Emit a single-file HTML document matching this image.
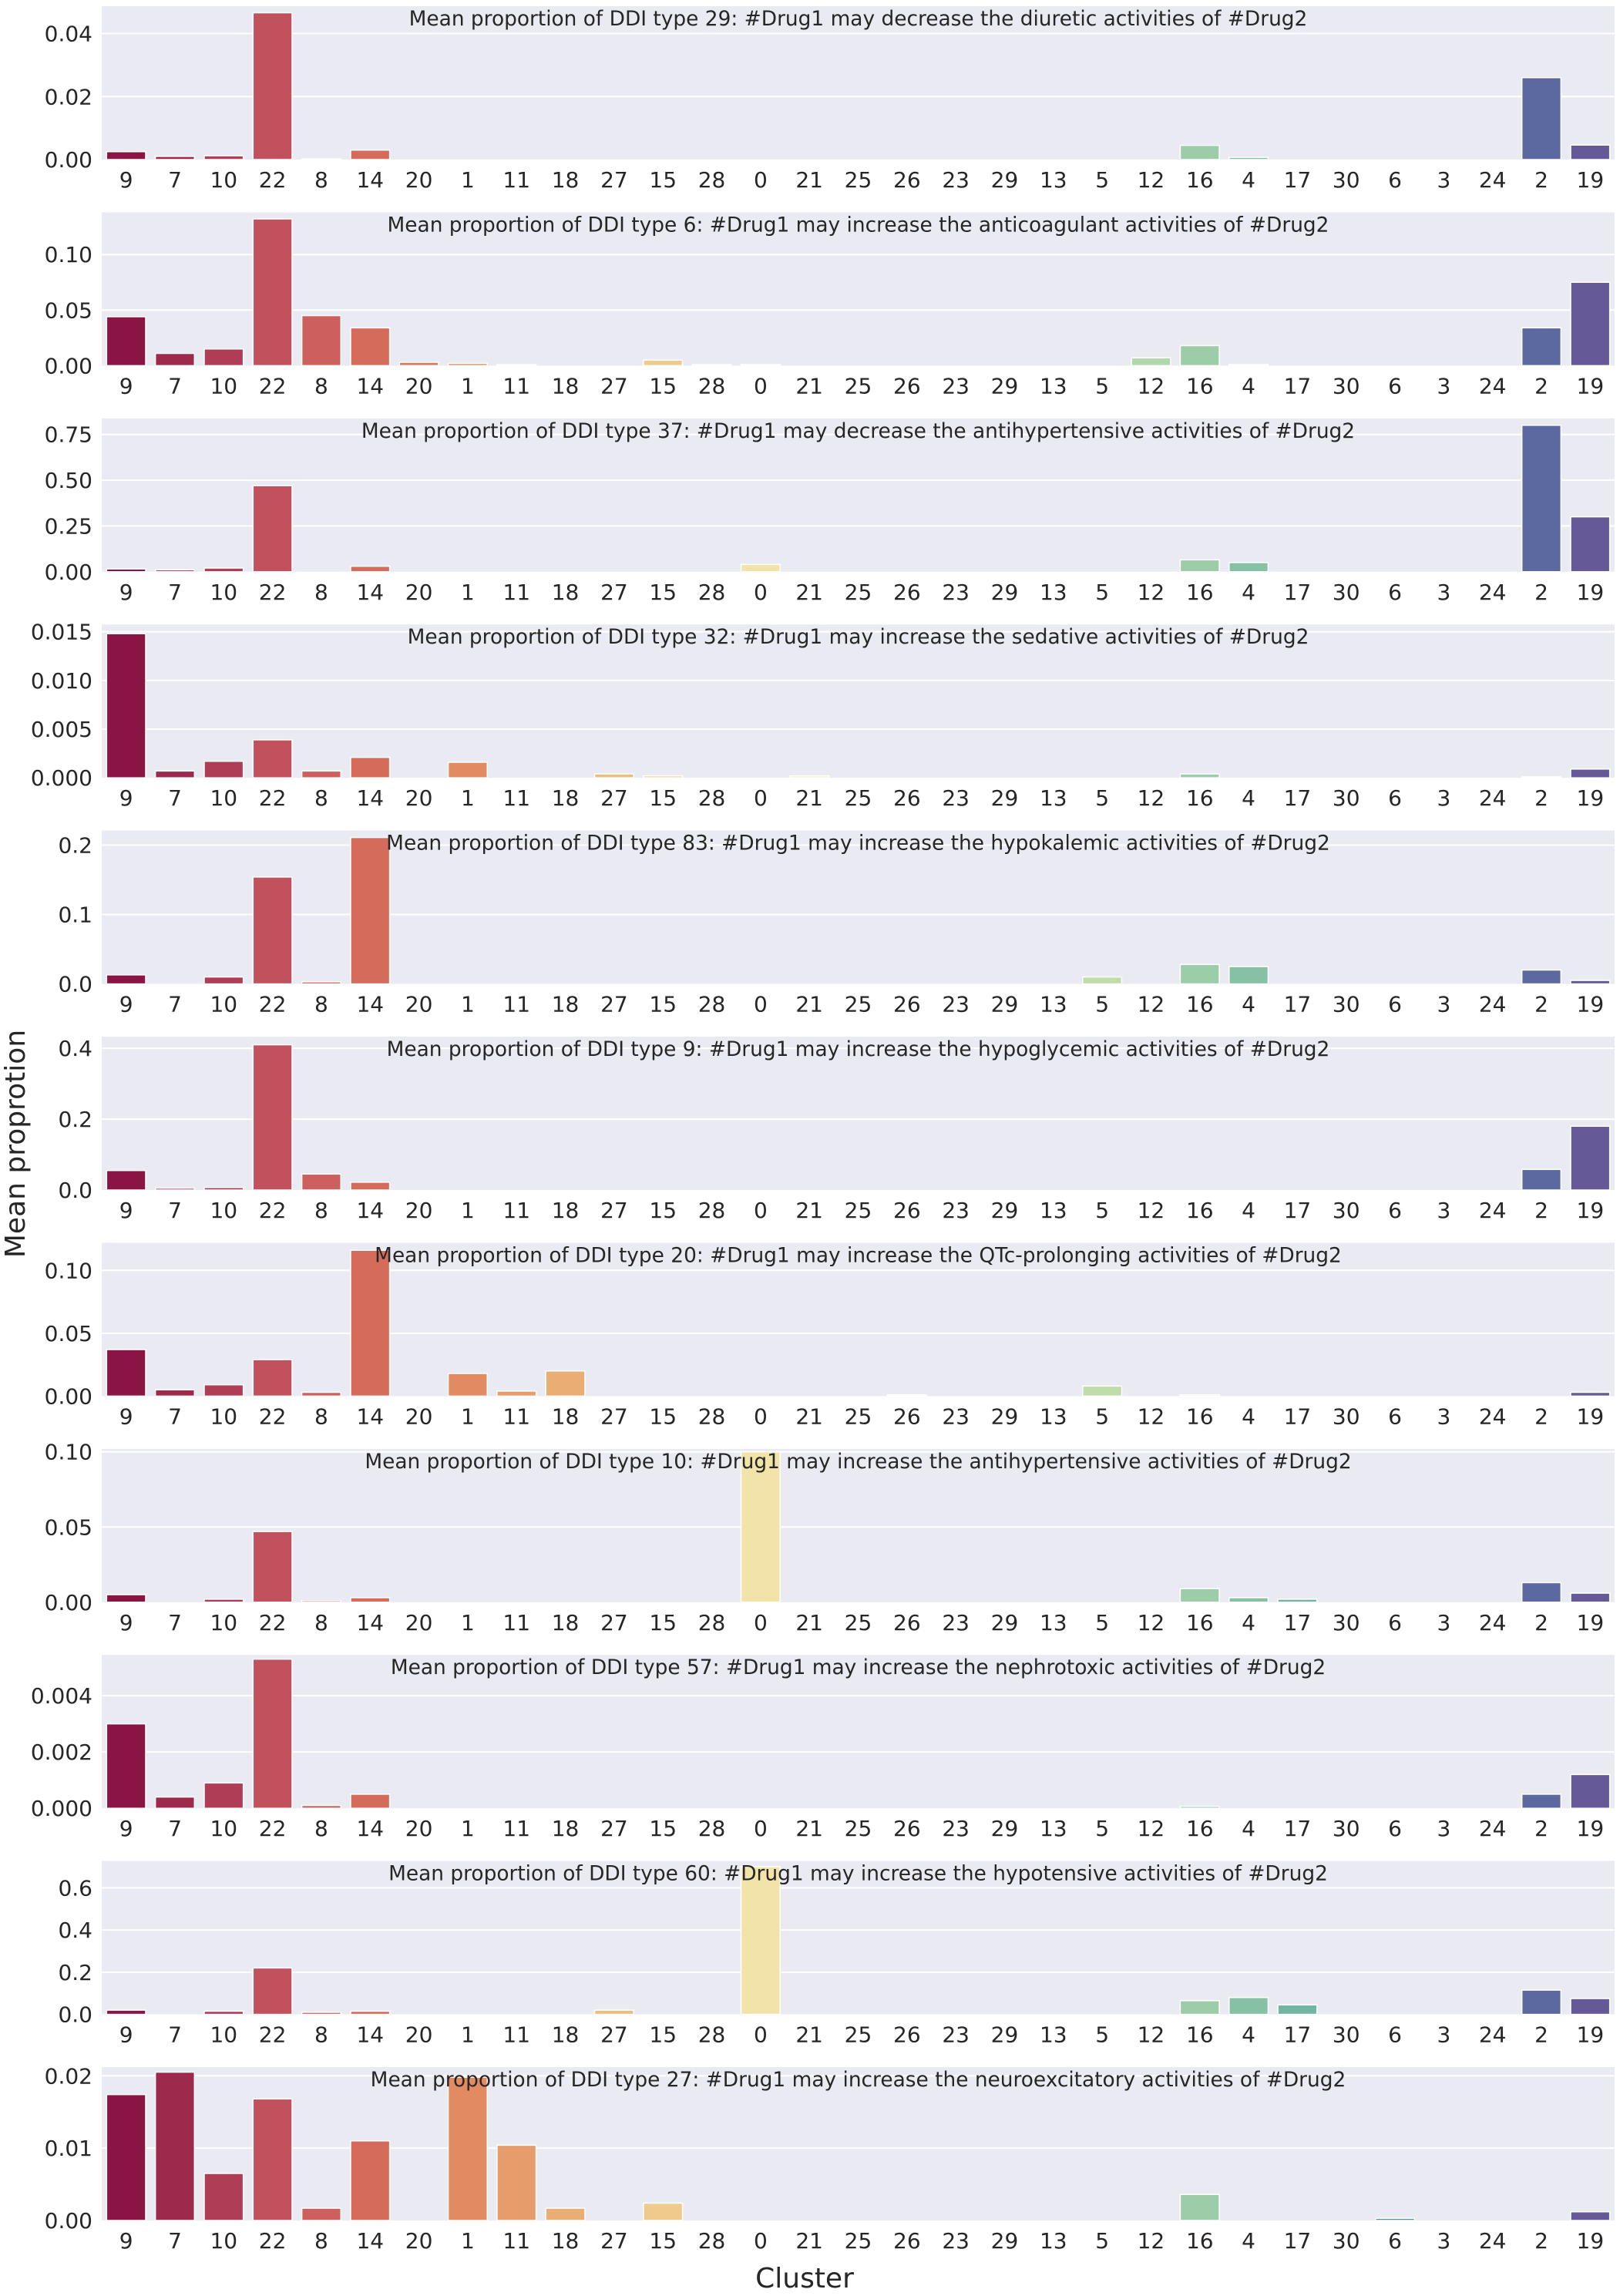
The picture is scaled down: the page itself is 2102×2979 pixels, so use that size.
<!DOCTYPE html>
<html><head><meta charset="utf-8"><style>
html,body{margin:0;padding:0;background:#fff;}
svg{display:block;font-family:"DejaVu Sans","Liberation Sans",sans-serif;}
</style></head><body>
<svg id="s" width="2102" height="2979" xmlns="http://www.w3.org/2000/svg"></svg>
<script>
const cats=[9,7,10,22,8,14,20,1,11,18,27,15,28,0,21,25,26,23,29,13,5,12,16,4,17,30,6,3,24,2,19];
const panels=[
["Mean proportion of DDI type 29: #Drug1 may decrease the diuretic activities of #Drug2",0.0487,[0,0.02,0.04],2,{9:0.0025,7:0.001,10:0.0012,22:0.0466,8:0.0002,14:0.003,16:0.0045,4:0.0007,2:0.026,19:0.0046}],
["Mean proportion of DDI type 6: #Drug1 may increase the anticoagulant activities of #Drug2",0.138,[0,0.05,0.10],2,{9:0.044,7:0.011,10:0.015,22:0.132,8:0.045,14:0.034,20:0.003,1:0.002,11:0.001,15:0.005,28:0.001,0:0.001,12:0.007,16:0.018,4:0.001,2:0.034,19:0.075}],
["Mean proportion of DDI type 37: #Drug1 may decrease the antihypertensive activities of #Drug2",0.838,[0,0.25,0.5,0.75],2,{9:0.015,7:0.01,10:0.02,22:0.47,14:0.03,0:0.04,16:0.065,4:0.05,2:0.8,19:0.3}],
["Mean proportion of DDI type 32: #Drug1 may increase the sedative activities of #Drug2",0.01575,[0,0.005,0.01,0.015],3,{9:0.0148,7:0.0007,10:0.0017,22:0.0039,8:0.0007,14:0.0021,1:0.0016,27:0.0004,15:0.0002,21:0.0002,16:0.0004,2:0.0001,19:0.0009}],
["Mean proportion of DDI type 83: #Drug1 may increase the hypokalemic activities of #Drug2",0.221,[0,0.1,0.2],1,{9:0.013,10:0.01,22:0.154,8:0.003,14:0.211,5:0.01,16:0.028,4:0.025,2:0.02,19:0.005}],
["Mean proportion of DDI type 9: #Drug1 may increase the hypoglycemic activities of #Drug2",0.433,[0,0.2,0.4],1,{9:0.055,7:0.005,10:0.007,22:0.41,8:0.045,14:0.022,2:0.058,19:0.18}],
["Mean proportion of DDI type 20: #Drug1 may increase the QTc-prolonging activities of #Drug2",0.122,[0,0.05,0.10],2,{9:0.037,7:0.005,10:0.009,22:0.029,8:0.003,14:0.116,1:0.018,11:0.004,18:0.02,5:0.008,26:0.001,16:0.001,19:0.003}],
["Mean proportion of DDI type 10: #Drug1 may increase the antihypertensive activities of #Drug2",0.102,[0,0.05,0.10],2,{9:0.005,10:0.002,22:0.047,8:0.001,14:0.003,0:0.1,16:0.009,4:0.003,17:0.002,2:0.013,19:0.006}],
["Mean proportion of DDI type 57: #Drug1 may increase the nephrotoxic activities of #Drug2",0.00545,[0,0.002,0.004],3,{9:0.003,7:0.0004,10:0.0009,22:0.0053,8:0.0001,14:0.0005,16:0.00007,2:0.0005,19:0.0012}],
["Mean proportion of DDI type 60: #Drug1 may increase the hypotensive activities of #Drug2",0.727,[0,0.2,0.4,0.6],1,{9:0.02,10:0.015,22:0.22,8:0.01,14:0.015,27:0.02,0:0.7,16:0.065,4:0.08,17:0.045,2:0.115,19:0.075}],
["Mean proportion of DDI type 27: #Drug1 may increase the neuroexcitatory activities of #Drug2",0.0212,[0,0.01,0.02],2,{9:0.0174,7:0.0205,10:0.0065,22:0.0168,8:0.0017,14:0.011,1:0.0198,11:0.0104,18:0.0017,15:0.0024,16:0.0036,6:0.0003,19:0.0012}]
];
const anchors=["#9e0142","#d53e4f","#f46d43","#fdae61","#fee08b","#ffffbf","#e6f598","#abdda4","#66c2a5","#3288bd","#5e4fa2"];
function hx(h){return [1,3,5].map(i=>parseInt(h.substr(i,2),16)/255);}
function spectral(t){const p=t*10,i=Math.min(9,Math.floor(p)),f=p-i;const a=hx(anchors[i]),b=hx(anchors[i+1]);return a.map((v,k)=>v+(b[k]-v)*f);}
function desat(c,s){const mx=Math.max(...c),mn=Math.min(...c),l=(mx+mn)/2;let h=0,sat=0;const d=mx-mn;
if(d>0){sat=l>0.5?d/(2-mx-mn):d/(mx+mn);
if(mx===c[0])h=((c[1]-c[2])/d+(c[1]<c[2]?6:0));else if(mx===c[1])h=(c[2]-c[0])/d+2;else h=(c[0]-c[1])/d+4;h/=6;}
sat*=s;const q=l<0.5?l*(1+sat):l+sat-l*sat,p=2*l-q;
function f(t){if(t<0)t+=1;if(t>1)t-=1;if(t<1/6)return p+(q-p)*6*t;if(t<1/2)return q;if(t<2/3)return p+(q-p)*(2/3-t)*6;return p;}
return "rgb("+[f(h+1/3),f(h),f(h-1/3)].map(v=>Math.round(v*255)).join(",")+")";}
const cols=cats.map((c,i)=>desat(spectral(i/30),0.75));
let o="";
const L=132,R=2095,W=R-L,step=W/31,bw=step*0.8,P=267.4,H=199;
panels.forEach((pn,k)=>{
 const top=8+k*P,bot=top+H,[title,ymax,ticks,dec,vals]=pn;
 o+=`<rect x="${L}" y="${top}" width="${W}" height="${H}" fill="#eaeaf2"/>`;
 ticks.forEach(t=>{const y=bot-t/ymax*H;
  if(t>0)o+=`<line x1="${L}" x2="${R}" y1="${y}" y2="${y}" stroke="#fff" stroke-width="2"/>`;
  o+=`<text x="120" y="${y+10}" text-anchor="end" font-size="28" fill="#262626">${t.toFixed(dec)}</text>`;});
 cats.forEach((c,i)=>{const cx=L+step*(i+0.5);const v=vals[c]||0;
  if(v>0){const h=v/ymax*H;o+=`<rect x="${cx-bw/2}" y="${bot-h}" width="${bw}" height="${h}" fill="${cols[i]}" stroke="#fff" stroke-width="1.5"/>`;}
  o+=`<text x="${cx}" y="${bot+36}" text-anchor="middle" font-size="28" fill="#262626">${c}</text>`;});
 o+=`<text x="${(L+R)/2}" y="${top+25}" text-anchor="middle" font-size="26.4" fill="#262626">${title}</text>`;
});
o+=`<text x="1044" y="2968" text-anchor="middle" font-size="36" fill="#262626">Cluster</text>`;
o+=`<text transform="translate(32,1484) rotate(-90)" text-anchor="middle" font-size="36" fill="#262626">Mean proprotion</text>`;
document.getElementById("s").innerHTML=o;
</script>
</body></html>
